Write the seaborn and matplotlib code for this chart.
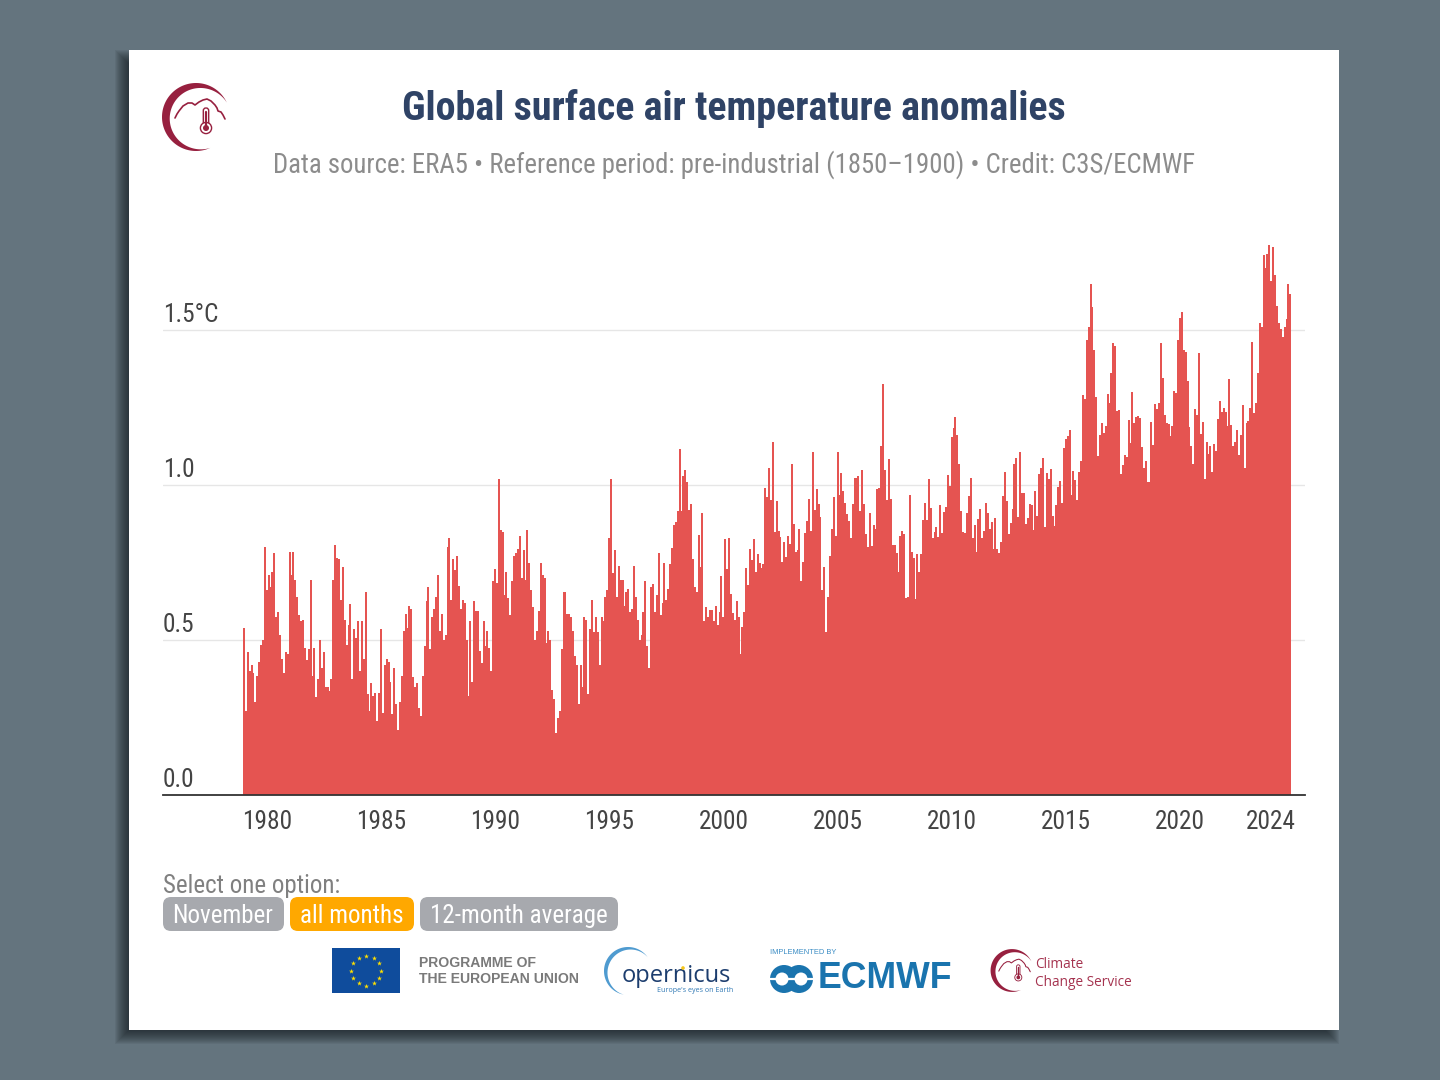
import numpy as np
import pandas as pd
import matplotlib
matplotlib.use('Agg')
import matplotlib.pyplot as plt
from matplotlib import font_manager
from matplotlib.patches import Rectangle, FancyBboxPatch, Polygon, Circle
from matplotlib.transforms import ScaledTranslation
import seaborn as sns

# monthly anomalies from Jan 1979
anomaly_1979_1990 = [
    .54, .27, .46, .40, .42, .395, .30, .385, .43, .485, .50, .80,
    .66, .71, .67, .72, .78, .575, .59, .515, .44, .395, .46, .455,
    .785, .71, .785, .695, .64, .58, .56, .565, .475, .435, .47, .695,
    .385, .475, .315, .375, .50, .41, .46, .35, .35, .335, .375, .695,
    .805, .765, .76, .63, .735, .565, .485, .55, .615, .375, .535, .505,
    .56, .40, .56, .44, .655, .325, .27, .36, .32, .33, .24, .33,
    .535, .265, .42, .44, .43, .365, .26, .41, .295, .21, .30, .385,
    .53, .585, .54, .61, .60, .38, .35, .36, .28, .255, .385, .48,
    .625, .67, .47, .575, .60, .64, .71, .53, .585, .50, .515, .80,
    .83, .63, .76, .725, .77, .675, .60, .63, .62, .50, .32, .56,
    .365, .625, .595, .595, .465, .425, .56, .48, .53, .475, .40, .69,
    .73, .685]
anomaly_1990_2001 = [
    1.02, .855, .85, .645, .72, .635, .58, .69, .77, .78, .795, .835,
    .70, .79, .695, .855, .75, .66, .605, .50, .53, .595, .75, .71,
    .70, .49, .53, .50, .34, .31, .20, .25, .27, .47, .655, .655,
    .585, .585, .575, .53, .45, .42, .295, .42, .35, .575, .565, .325,
    .535, .63, .525, .575, .525, .42, .575, .56, .64, .66, .83, 1.02,
    .715, .79, .64, .74, .695, .695, .61, .655, .665, .59, .60, .74,
    .64, .565, .50, .515, .59, .69, .48, .41, .67, .68, .59, .645,
    .78, .58, .618, .75, .63, .665, .745, .798, .87, .88, .915, 1.115,
    .915, 1.03, 1.05, 1.01, .92, .94, .76, .67, .655, .84, .735, .91,
    .56, .607, .575, .597, .597, .56, .61, .55, .59, .707, .573, .825,
    .73, .828, .65, .586, .563, .626, .573, .455, .543, .589, .731, .677,
    .792, .758, .825, .718, .778, .749, .731, .745]
anomaly_2001_2013 = [
    .99, .96, 1.056, .951, 1.14, .847, .95, .853, .833, .753, .815, .769,
    .836, .809, 1.067, .873, .785, .79, .857, .691, .753, .846, .884, .954,
    .853, 1.107, .92, .987, .939, .896, .662, .737, .525, .64, .77, .857,
    .961, .836, 1.107, .968, 1.038, .981, .941, .906, .885, .83, .939, 1.021,
    1.021, 1.03, .917, 1.05, .939, .842, .799, .911, .803, .871, .859, .987,
    .991, 1.125, 1.325, 1.048, .951, 1.083, .954, .807, .807, .782, .72, .837,
    .852, .841, .635, .64, .969, .785, .765, .633, .776, .72, .779, .887,
    .941, .887, 1.019, .926, .83, .85, .866, .833, .936, .844, .914, .93,
    1.031, .998, 1.154, 1.183, 1.219, 1.161, 1.067, .916, .849, .846, .909, .966,
    1.024, .828, .87, .785, .89, .922, .828, .852, .941, .909, .857, .88,
    .795, .892, .795, .782, .815, .965, 1.043, .95, .841, .876, .922, 1.068,
    1.086, .898, 1.107, .975, .975, .874, .892, .938]
anomaly_2013_2024 = [
    .935, .855, .98, .90, 1.037, 1.055, 1.086, .866, 1.04, 1.018, 1.051, .90,
    .868, .937, .995, 1.013, .943, 1.118, 1.15, 1.158, 1.177, .968, 1.046, 1.016,
    .953, 1.043, 1.077, 1.29, 1.277, 1.467, 1.51, 1.647, 1.573, 1.437, 1.285, 1.094,
    1.161, 1.201, 1.169, 1.191, 1.293, 1.265, 1.362, 1.459, 1.448, 1.24, 1.242, 1.034,
    1.066, 1.097, 1.091, 1.21, 1.137, 1.301, 1.201, 1.22, 1.222, 1.215, 1.121, 1.055,
    1.077, 1.01, 1.01, 1.204, 1.129, 1.26, 1.244, 1.265, 1.457, 1.344, 1.226, 1.199,
    1.196, 1.157, 1.19, 1.303, 1.298, 1.467, 1.54, 1.557, 1.435, 1.428, 1.335, 1.188,
    1.126, 1.067, 1.244, 1.226, 1.427, 1.164, 1.202, 1.019, 1.138, 1.10, 1.127, 1.043,
    1.131, 1.11, 1.212, 1.272, 1.236, 1.25, 1.236, 1.19, 1.342, 1.193, 1.127, 1.138,
    1.177, 1.097, 1.161, 1.258, 1.054, 1.199, 1.206, 1.25, 1.46, 1.231, 1.265, 1.362,
    1.523, 1.51, 1.742, 1.70, 1.744, 1.774, 1.658, 1.768, 1.677, 1.578, 1.522, 1.502,
    1.478, 1.51, 1.537, 1.647, 1.616]

tick_years = [1980, 1985, 1990, 1995, 2000, 2005, 2010, 2015, 2020, 2024]
y_ticks = [0.0, 0.5, 1.0, 1.5]
y_labels = ['0.0', '0.5', '1.0', '1.5°C']
options = ['November', 'all months', '12-month average']

values = anomaly_1979_1990 + anomaly_1990_2001 + anomaly_2001_2013 + anomaly_2013_2024
df = pd.DataFrame({'month': np.arange(len(values)), 'anomaly': values})

sns.set_theme(style='whitegrid')

# pick a narrow font if there is one
installed = {f.name for f in font_manager.fontManager.ttflist}
narrow = next(n for n in ['Roboto Condensed', 'Liberation Sans Narrow', 'Roboto'] if n in installed)
plt.rcParams['font.family'] = [narrow, 'DejaVu Sans']

W, H = 1440, 1080
fig = plt.figure(figsize=(14.4, 10.8), dpi=100, facecolor='#64747e')

# page layer in pixel coordinates (card, logos, buttons)
bg = fig.add_axes([0, 0, 1, 1], zorder=0)
bg.set_xlim(0, W)
bg.set_ylim(H, 0)
bg.axis('off')


def px_text(x, y, s, size, color, weight='normal', ha='left', family=None):
    return bg.text(x, y, s, fontsize=size, color=color, fontweight=weight, ha=ha, va='center',
                   family=family if family else [narrow, 'DejaVu Sans'])


def crescent(cx, cy, r, thick, color, a0=-75, a1=265):
    # ring that is thickest on the left and runs out at both ends
    a = np.radians(np.linspace(a0, a1, 120))
    t = np.sin((a - a[0]) / (a[-1] - a[0]) * np.pi) ** 1.1 * thick
    outer = np.c_[cx + r * np.cos(a), cy + r * np.sin(a)]
    inner = np.c_[cx + (r - t) * np.cos(a), cy + (r - t) * np.sin(a)]
    bg.add_patch(Polygon(np.r_[outer, inner[::-1]], closed=True, fc=color, ec='none', zorder=5))


def climate_logo(cx, cy, k, color):
    crescent(cx, cy, 34 * k, 8 * k, color, a0=-25, a1=-295)
    cloud = np.array([[-21, 1], [-19, -3], [-17, -6], [-13, -11], [-8, -14], [-4, -14], [-1, -12],
                      [3, -15], [7, -17], [11, -18], [15, -16], [19, -12], [21, -9], [22, -6],
                      [25, -5], [27, -2], [29, 2]], float)
    bg.plot(cx + cloud[:, 0] * k, cy + cloud[:, 1] * k, color=color, lw=1.2 * k, zorder=5)
    bg.add_patch(FancyBboxPatch((cx + 7.3 * k, cy - 9 * k), 5.4 * k, 18 * k,
                                boxstyle=f'round,pad=0,rounding_size={2.6 * k}',
                                fc='white', ec=color, lw=1.0 * k, zorder=6))
    bg.add_patch(Circle((cx + 10 * k, cy + 11 * k), 5.6 * k, fc='white', ec=color, lw=1.0 * k, zorder=6))
    bg.add_patch(Circle((cx + 10 * k, cy + 11 * k), 3 * k, fc=color, ec='none', zorder=7))
    bg.plot([cx + 10 * k, cx + 10 * k], [cy - 5 * k, cy + 9 * k], color=color, lw=1.6 * k, zorder=7)


# card with its shadow, only left and below
for grow in np.arange(7, -7, -1):
    bg.add_patch(Rectangle((129 - 7 - grow, 50 + 7 - grow), 1210 + 2 * grow, 980 + 2 * grow,
                           fc='#11181c', ec='none', alpha=.065, zorder=1))
bg.add_patch(Rectangle((129, 50), 1210, 980, fc='white', ec='none', zorder=2))

climate_logo(196, 117, 1.0, '#97203f')

px_text(734, 109, 'Global surface air temperature anomalies', 28.9, '#2f4366', weight='bold', ha='center')
px_text(734, 165, 'Data source: ERA5 • Reference period: pre-industrial (1850–1900) • Credit: C3S/ECMWF',
        19.3, '#8c8c8c', ha='center')

# main chart
ax = fig.add_axes([163 / W, 1 - 795 / H, (1305 - 163) / W, (795 - 235) / H], zorder=1)
ax.patch.set_alpha(0)
sns.barplot(data=df, x='month', y='anomaly', color='#e55451', saturation=1, width=1.05,
            linewidth=0, ax=ax)
ax.set_xlim(-0.5 - 80 / 1.9025, -0.5 + (1305 - 243) / 1.9025)
ax.set_ylim(0, (795 - 235) / 310)
ax.set_xticks([(y - 1979) * 12 for y in tick_years])
ax.set_xticklabels([str(y) for y in tick_years])
ax.set_yticks(y_ticks)
ax.set_yticklabels(y_labels, ha='left', va='bottom')
ax.set_xlabel('')
ax.set_ylabel('')
ax.tick_params(axis='x', length=0, pad=11, labelsize=18.3, labelcolor='#444444')
ax.tick_params(axis='y', length=0, pad=0, labelsize=18.3, labelcolor='#444444')
ax.grid(False)
ax.grid(True, axis='y', color='#e6e6e6', lw=1)
ax.set_axisbelow(True)
sns.despine(ax=ax, left=True)
ax.spines['bottom'].set_color('#333333')
ax.spines['bottom'].set_linewidth(1.3)
# y labels sit a little higher over their grid lines
for lab in ax.get_yticklabels():
    lab.set_transform(lab.get_transform() + ScaledTranslation(0, 3 / 100, fig.dpi_scale_trans))

# selector under the chart
px_text(163, 886, 'Select one option:', 18, '#808080')
btn_boxes = [(163, 121, '#a7a9ae'), (290, 124, '#ffa800'), (420, 198, '#a7a9ae')]
for (x0, w, col), label in zip(btn_boxes, options):
    bg.add_patch(FancyBboxPatch((x0, 897), w, 34, boxstyle='round,pad=0,rounding_size=8', fc=col, ec='none', zorder=4))
    px_text(x0 + w / 2 - 0.5, 916, label, 18, 'white', ha='center').set_zorder(5)

# partner logos
bg.add_patch(Rectangle((332, 948), 68, 45, fc='#0f4c9c', ec='none', zorder=4))
star_a = np.radians(np.arange(0, 360, 30))
bg.scatter(366 + 15 * np.cos(star_a), 970.5 + 15 * np.sin(star_a), marker='*', s=14, c='#ffe000', lw=0, zorder=5)
px_text(419, 963, 'PROGRAMME OF', 10.1, '#7a7a7a', weight='bold', family='Liberation Sans')
px_text(419, 979, 'THE EUROPEAN UNION', 10.1, '#7a7a7a', weight='bold', family='Liberation Sans')

crescent(628, 971, 24, 4, '#4f9bd0', a0=-35, a1=-35 - 225)
px_text(622, 976, 'opernicus', 17, '#1c3d6e', family='Open Sans')
bg.add_patch(Circle((683, 968), 1.8, fc='#f5c518', ec='none', zorder=6))
px_text(657, 991, "Europe's eyes on Earth", 5.1, '#2f78b4', family='Open Sans')

ecmwf_blue = '#1a74ae'
px_text(770, 952, 'IMPLEMENTED BY', 5.4, '#3a8cc4', family='Liberation Sans')
for cx, sign in [(784, -1), (799, 1)]:
    bg.add_patch(Circle((cx, 979), 14, fc=ecmwf_blue, ec='none', zorder=5))
for cx in [782, 801]:
    bg.add_patch(Circle((cx, 979), 6.5, fc='white', ec='none', zorder=6))
bg.plot([770, 813], [979, 979], color='white', lw=1.6, zorder=7)
px_text(818, 979, 'ECMWF', 25.7, ecmwf_blue, weight='bold', family='Liberation Sans')

climate_logo(1012, 970.5, 0.63, '#97203f')
px_text(1035, 964, 'Climate', 9.8, '#a5334f', family='Open Sans')
px_text(1035, 982, 'Change Service', 9.8, '#a5334f', family='Open Sans')

fig.savefig('out.png', dpi=100, facecolor=fig.get_facecolor())
